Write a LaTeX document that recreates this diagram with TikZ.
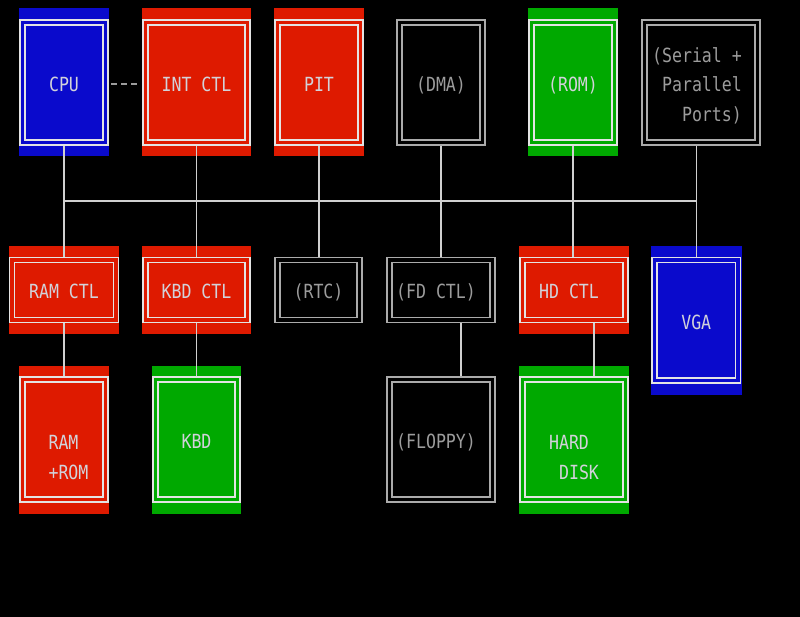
\documentclass[tikz,border=0pt]{standalone}
\usepackage{fontspec}
\newfontfamily\termfont[FakeStretch=0.85]{DejaVu Sans Mono}
\definecolor{cblue}{HTML}{0A0ACC}
\definecolor{cred}{HTML}{DE1A00}
\definecolor{cgreen}{HTML}{00A900}
\definecolor{bord}{HTML}{E4E4E4}
\definecolor{dimb}{HTML}{ABABAB}
\definecolor{txtc}{HTML}{D2D2DA}
\definecolor{dimt}{HTML}{9C9C9C}
\definecolor{wirec}{HTML}{D0D0D0}
\pgfdeclarelayer{pads}
\pgfdeclarelayer{wires}
\pgfsetlayers{pads,wires,main}
\newcommand\padfill[2]{\fill[#2] ([shift={(-3.5pt,14pt)}]#1.north west) rectangle ([shift={(3.5pt,-14pt)}]#1.south east);}
\tikzset{
  unit/.style={rectangle, inner sep=0pt, outer sep=0pt, line width=1.3pt, double distance=3.7pt,
    font=\termfont\fontsize{19.5}{29.5}\selectfont},
  hot/.style={unit, draw=bord, double=#1, fill=#1, text=txtc},
  cold/.style={unit, draw=dimb, double=black, fill=black, text=dimt},
  one/.style={text height=18pt, text depth=0pt},
  bnarrow/.style={minimum width=83pt},
  bwide/.style={minimum width=103pt},
  btall/.style={minimum height=120pt},
  bshort/.style={minimum height=60pt},
  wire/.style={draw=wirec, line width=1.5pt},
  dashwire/.style={draw=dimt, line width=1.3pt, dash pattern=on 6pt off 4pt},
}
\begin{document}
\begin{tikzpicture}[x=1pt, y=-1pt]
\useasboundingbox (0,0) rectangle (800,617);
% top row
\node[hot=cblue, one, bnarrow, btall] (cpu) at (64,82.5) {CPU};
\node[hot=cred, one, minimum width=102pt, btall] (intctl) at (196.5,82.5) {INT CTL};
\node[hot=cred, one, bnarrow, btall] (pit) at (319,82.5) {PIT};
\node[cold, one, bnarrow, btall] (dma) at (441,82.5) {(DMA)};
\node[hot=cgreen, one, bnarrow, btall] (rom) at (573,82.5) {(ROM)};
\node[cold, minimum width=113pt, btall, align=right, text height=78pt, text depth=0pt] (serial) at (701,82.5) {(Serial +\kern8pt\\Parallel\kern8pt\\Ports)\kern8pt};
% middle row
\node[hot=cred, one, minimum width=103.5pt, bshort] (ramctl) at (64,290) {RAM CTL};
\node[hot=cred, one, minimum width=102pt, bshort] (kbdctl) at (196.5,290) {KBD CTL};
\node[cold, one, minimum width=82pt, bshort] (rtc) at (318.5,290) {(RTC)};
\node[cold, one, bwide, bshort] (fdctl) at (441,290) {(FD CTL)\hspace*{10pt}};
\node[hot=cred, one, bwide, bshort] (hdctl) at (574,290) {HD CTL\hspace*{10pt}};
\node[hot=cblue, one, minimum width=83.5pt, minimum height=120.5pt] (vga) at (696.25,320.25) {VGA};
% bottom row
\node[hot=cred, bnarrow, btall, align=left, text height=79pt, text depth=0pt] (ram) at (64,439.5) {\hspace*{9pt}RAM\\\hspace*{9pt}+ROM};
\node[hot=cgreen, one, minimum width=82pt, btall] (kbd) at (196.5,439.5) {KBD};
\node[cold, one, bwide, btall] (floppy) at (441,439.5) {(FLOPPY)\hspace*{10pt}};
\node[hot=cgreen, bwide, btall, align=left, text height=79pt, text depth=0pt] (hdd) at (574,439.5) {HARD\\\hspace*{10pt}DISK};
\coordinate (bus) at (0,201);
\begin{pgfonlayer}{pads}
  \fill[black] (0,0) rectangle (800,617);
  \padfill{cpu}{cblue}
  \padfill{intctl}{cred}
  \padfill{pit}{cred}
  \padfill{rom}{cgreen}
  \padfill{ramctl}{cred}
  \padfill{kbdctl}{cred}
  \padfill{hdctl}{cred}
  \padfill{vga}{cblue}
  \padfill{ram}{cred}
  \padfill{kbd}{cgreen}
  \padfill{hdd}{cgreen}
\end{pgfonlayer}
\begin{pgfonlayer}{wires}
  \draw[wire] (cpu.south |- bus) -- (vga.north |- bus);
  \draw[wire] (cpu.south) -- (ramctl.north);
  \draw[wire] (intctl.south) -- (kbdctl.north);
  \draw[wire] (pit.south) -- (pit.south |- rtc.north);
  \draw[wire] (dma.south) -- (fdctl.north);
  \draw[wire] (rom.south) -- (rom.south |- hdctl.north);
  \draw[wire] (vga.north |- serial.south) -- (vga.north);
  \draw[wire] (ramctl.south) -- (ram.north);
  \draw[wire] (kbdctl.south) -- (kbd.north);
  \draw[wire] ([xshift=20pt]fdctl.south) -- ([xshift=20pt]floppy.north);
  \draw[wire] ([xshift=20pt]hdctl.south) -- ([xshift=20pt]hdd.north);
  \draw[dashwire, shorten <=5.5pt, shorten >=6.5pt] ([yshift=-1.5pt]cpu.east) -- ([yshift=-1.5pt]intctl.west);
\end{pgfonlayer}
\end{tikzpicture}
\end{document}
